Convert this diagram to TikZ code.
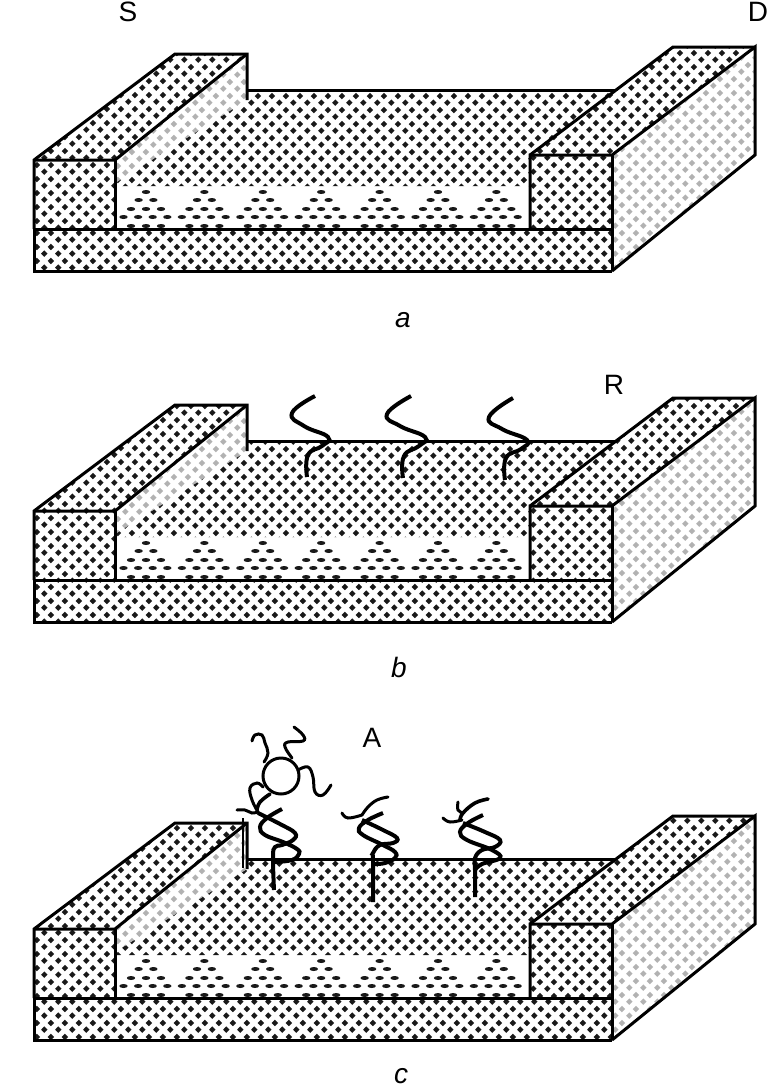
\documentclass[tikz,border=0pt]{standalone}
\usepackage{fontspec}
\setmainfont{Liberation Sans}
\usetikzlibrary{patterns}
\pgfdeclarepatternformonly{diadots}{\pgfqpoint{0pt}{0pt}}{\pgfqpoint{13.6pt}{13.6pt}}{\pgfqpoint{13.6pt}{13.6pt}}{
\pgfpathmoveto{\pgfqpoint{6.7pt}{3.4pt}}\pgfpathlineto{\pgfqpoint{3.4pt}{6.7pt}}\pgfpathlineto{\pgfqpoint{0.1pt}{3.4pt}}\pgfpathlineto{\pgfqpoint{3.4pt}{0.1pt}}\pgfpathclose
\pgfpathmoveto{\pgfqpoint{13.5pt}{10.2pt}}\pgfpathlineto{\pgfqpoint{10.2pt}{13.5pt}}\pgfpathlineto{\pgfqpoint{6.9pt}{10.2pt}}\pgfpathlineto{\pgfqpoint{10.2pt}{6.9pt}}\pgfpathclose
\pgfusepath{fill}}
\tikzset{
darkdots/.style={pattern=diadots,pattern color=black!90},
greydots/.style={pattern=diadots,pattern color=black!30},
edge/.style={line width=3pt,line join=miter},
probe/.style={line width=4pt,line cap=butt},
arm/.style={line width=3pt,line cap=round},
lbl/.style={font=\fontsize{28}{28}\selectfont,anchor=base,inner sep=0pt}
}
\newcommand{\dashmark}[2]{\fill[black!90](#1,#2)ellipse(4.2pt and 2pt);}
\begin{document}
\begin{tikzpicture}[x=1pt,y=-1pt]
\useasboundingbox(0,0)rectangle(779,1087);
\fill[white](0,0)rectangle(779,1087);
\foreach \dy in {0,351,769}{
\begin{scope}[yshift=-\dy pt]
% channel floor and inner wall of the source
\fill[darkdots](247,90)--(616,90)--(530,155)--(530,186)--(115,186)--(115,183)--(247,100)--cycle;
\fill[greydots](115,160)--(247,54)--(247,100)--(115,183)--cycle;
% film with the dashed charge rows
\foreach \k in {0,...,6}{
\pgfmathsetmacro{\cx}{146+58.4*\k}
\dashmark{\cx}{192}
\dashmark{\cx-7.4}{200}\dashmark{\cx+7.4}{200}
\dashmark{\cx-15}{209}\dashmark{\cx}{209}\dashmark{\cx+15}{209}
\dashmark{\cx-15}{226}\dashmark{\cx}{226}\dashmark{\cx+15}{226}
}
\foreach \k in {0,...,27}{
\pgfmathsetmacro{\cx}{123.5+14.6*\k}
\dashmark{\cx}{217}
}
% source, drain and substrate
\fill[darkdots](34,160)--(175,54)--(247,54)--(115,160)--(115,229)--(34,229)--cycle;
\fill[darkdots](530,155)--(673,47)--(755,47)--(612,155)--(612,229)--(530,229)--cycle;
\fill[greydots](612,155)--(755,47)--(755,155)--(612,271)--cycle;
\fill[darkdots](34,229)rectangle(612,271);
\draw[edge](115,160)--(115,229);
\draw[edge](34,160)--(115,160)--(247,54);
\draw[edge](34,229)--(34,160)--(175,54)--(247,54)--(247,100);
\draw[edge](247,90)--(616,90);
\draw[edge](530,229)--(530,155)--(612,155)--(755,47)--(755,155)--(612,271);
\draw[edge](530,155)--(673,47)--(755,47);
\draw[edge](612,155)--(612,271);
\draw[edge](34,229)--(612,229);
\draw[edge](34,229)--(34,271)--(612,271);
\end{scope}
}
% single probes
\draw[probe]plot[smooth,tension=0.8]coordinates{(315,396)(292,413)(304,426)(328,437)(322,446)(308,455)(307,477)};
\draw[probe]plot[smooth,tension=0.8]coordinates{(411,396)(387,414)(400,426)(425,437)(419,446)(404,456)(403,478)};
\draw[probe]plot[smooth,tension=0.8]coordinates{(513,398)(489,417)(502,429)(527,440)(521,449)(506,458)(505,480)};
% second wall line in c
\draw[edge,line width=2.4pt](243,818)--(243,868);
% bound probes
\draw[probe]plot[smooth,tension=0.7]coordinates{(258,813)(280,824)(295,833)(293,840)(282,845)(275,847)(273,857)(274,890)};
\draw[probe]plot[smooth,tension=0.7]coordinates{(282,809)(267,818)(260,827)(265,835)(283,842)(297,849)(299,854)(292,860)(275,862)};
\draw[probe]plot[smooth,tension=0.7]coordinates{(362,820)(383,830)(397,838)(393,843)(380,845)(373,853)(373,860)(373,902)};
\draw[probe]plot[smooth,tension=0.7]coordinates{(383,813)(368,820)(359,828)(363,835)(383,845)(395,852)(395,858)(385,863)(375,864)};
\draw[probe]plot[smooth,tension=0.7]coordinates{(463,823)(485,832)(500,840)(495,847)(482,850)(475,858)(475,870)(475,897)};
\draw[probe]plot[smooth,tension=0.7]coordinates{(483,815)(468,823)(460,832)(467,840)(492,850)(500,858)(482,864)(475,870)};
% target ends
\draw[arm]plot[smooth,tension=0.7]coordinates{(388,797)(377,800)(368,807)(362,815)};
\draw[arm]plot[smooth,tension=0.7]coordinates{(342,813)(348,818)(362,815)};
\draw[arm,line width=3.6pt]plot[smooth,tension=0.7]coordinates{(488,799)(475,803)(463,813)(460,820)};
\draw[arm]plot[smooth,tension=0.7]coordinates{(458,802)(458,810)(463,813)};
\draw[arm]plot[smooth,tension=0.7]coordinates{(443,818)(450,822)(462,820)};
% label with its arms
\node[draw,circle,line width=3pt,fill=white,minimum size=36pt,inner sep=0pt](bead)at(281,776){};
\draw[arm]plot[smooth,tension=0.7]coordinates{(264,762)(268,753)(265,743)(262,735)(255,735)(252,741)};
\draw[arm]plot[smooth,tension=0.7]coordinates{(292,758)(285,747)(288,742)(303,741)(303,735)(294,727)};
\draw[arm]plot[smooth,tension=0.7]coordinates{(298,770)(308,767)(313,777)(315,792)(323,795)(331,785)};
\draw[arm]plot[smooth,tension=0.7]coordinates{(263,787)(257,783)(250,788)(252,800)(258,812)};
\draw[arm,line width=3.6pt]plot[smooth,tension=0.7]coordinates{(270,794)(260,802)(257,810)};
\draw[arm]plot[smooth,tension=0.7]coordinates{(237,810)(245,810)(252,813)(258,812)};
% labels
\node[lbl](lblS)at(128,21){S};
\node[lbl](lblD)at(758,21){D};
\node[lbl](lblR)at(614,394){R};
\node[lbl](lblA)at(372,747){A};
\node[lbl,font=\fontsize{28}{28}\selectfont\itshape](lbla)at(403,327){a};
\node[lbl,font=\fontsize{28}{28}\selectfont\itshape](lblb)at(399,677){b};
\node[lbl,font=\fontsize{28}{28}\selectfont\itshape](lblc)at(401,1083){c};
\end{tikzpicture}
\end{document}
